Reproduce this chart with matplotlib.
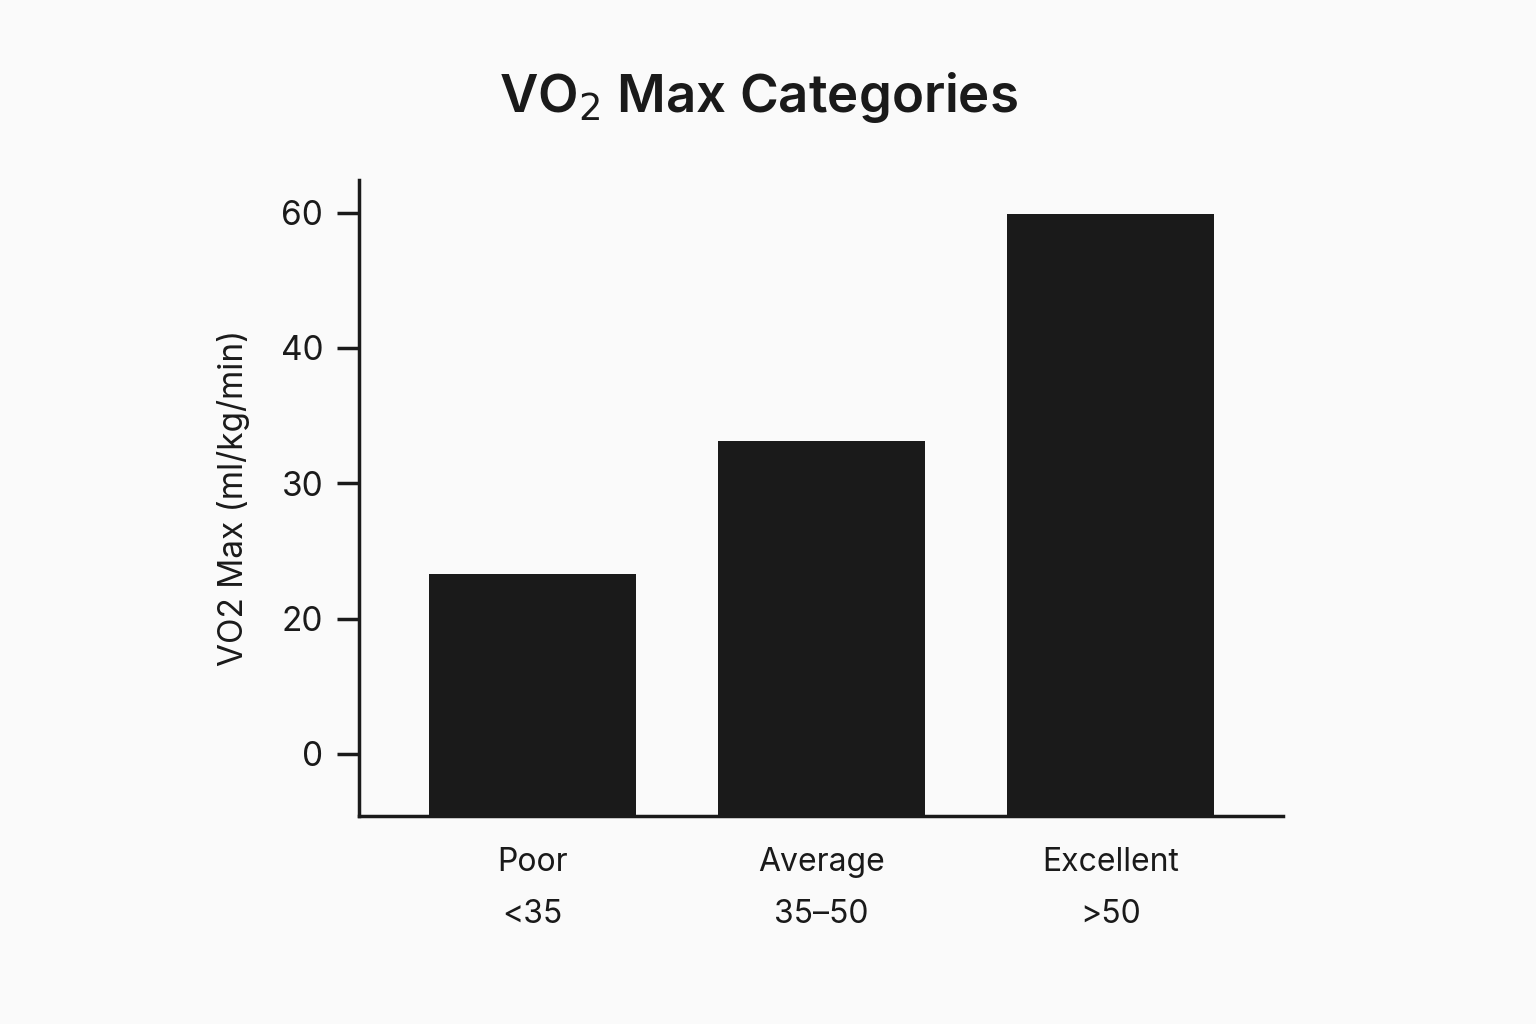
import numpy as np
import matplotlib.pyplot as plt

categories = ["Poor\n<35", "Average\n35\u201350", "Excellent\n>50"]
values = [23.3, 33.1, 59.8]
tick_values = [0, 20, 30, 40, 60]

# the reference axis spaces its ticks evenly, so map values piecewise
scale_vals = np.array([-20, 0, 20, 30, 40, 60, 80, 100], dtype=float)
scale_pos = np.array([-1, 0, 1, 2, 3, 4, 5, 6], dtype=float)


def fwd(v):
    return np.interp(v, scale_vals, scale_pos)


def inv(p):
    return np.interp(p, scale_pos, scale_vals)


ink = "#1a1a1a"
bg = "#fafafa"
plt.rcParams["font.family"] = "Inter"

fig = plt.figure(figsize=(15.36, 10.24), dpi=100, facecolor=bg)
ax = fig.add_axes([0.234, 0.203, 0.601, 0.621], facecolor=bg)
ax.set_yscale("function", functions=(fwd, inv))

ymin = inv(-0.46)
x = np.arange(len(categories))
ax.bar(x, np.array(values) - ymin, bottom=ymin, width=0.716, color=ink)

ax.set_xlim(-0.6, 2.595)
ax.set_ylim(ymin, inv(4.24))
ax.set_yticks(tick_values)
ax.set_yticklabels([str(t) for t in tick_values])
ax.yaxis.set_minor_locator(plt.NullLocator())
ax.set_xticks(x)
ax.set_xticklabels(categories, linespacing=1.9)

for s in ["top", "right"]:
    ax.spines[s].set_visible(False)
for s in ["left", "bottom"]:
    ax.spines[s].set_linewidth(2.5)
    ax.spines[s].set_color(ink)

ax.tick_params(axis="y", length=16, width=2.5, color=ink, labelsize=24, labelcolor=ink, pad=10)
ax.tick_params(axis="x", length=0, labelsize=23, labelcolor=ink, pad=22)
ax.set_ylabel("VO2 Max (ml/kg/min)", fontsize=24, color=ink, labelpad=22)

fig.text(0.494, 0.905, "VO$_2$ Max Categories", fontsize=38, fontweight="semibold",
         color=ink, ha="center", va="center")

fig.savefig("out.png", dpi=100, facecolor=bg)
